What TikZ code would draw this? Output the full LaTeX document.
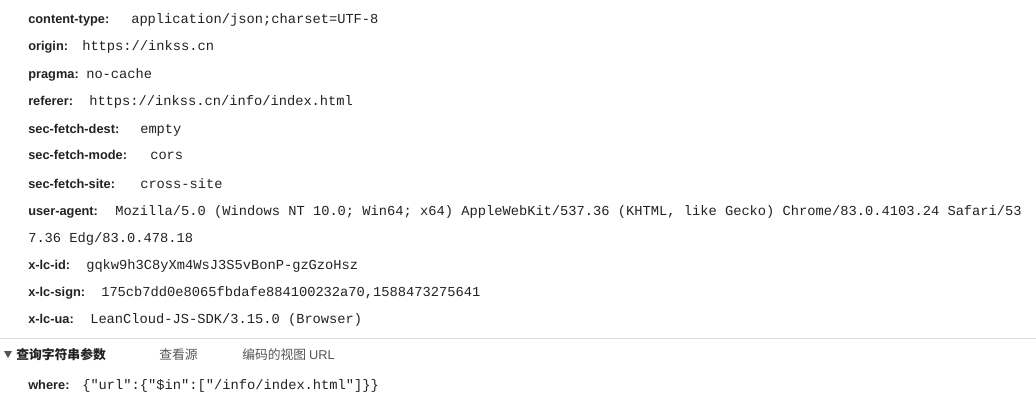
\documentclass[tikz,border=0pt]{standalone}
\usepackage{fontspec}
\setmainfont{Liberation Sans}
\setmonofont{Liberation Mono}
\newfontfamily\cjk{Noto Sans CJK SC}
\definecolor{txt}{HTML}{222222}
\definecolor{sep}{HTML}{DADCE0}
\definecolor{tab}{HTML}{555555}
\begin{document}
\begin{tikzpicture}[x=0.75pt,y=-0.75pt,
  key/.style={anchor=base west,inner sep=0pt,font=\fontsize{9.6}{11}\selectfont\bfseries,text=txt},
  val/.style={anchor=base west,inner sep=0pt,font=\fontsize{10.3}{12}\ttfamily,text=txt},
  ctab/.style={anchor=base west,inner sep=0pt,font=\fontsize{9.6}{11}\cjk,text=tab}]
\useasboundingbox (0,0) rectangle (1036,403);
\node[key] (k1) at (28,24) {content-type:}; \node[val] (v1) at (131,24) {application/json;charset=UTF-8};
\node[key] (k2) at (28,51) {origin:}; \node[val] (v2) at (82,51) {https://inkss.cn};
\node[key] (k3) at (28,79) {pragma:}; \node[val] (v3) at (86,79) {no-cache};
\node[key] (k4) at (28,106) {referer:}; \node[val] (v4) at (89,106) {https://inkss.cn/info/index.html};
\node[key] (k5) at (28,133) {sec-fetch-dest:}; \node[val] (v5) at (140,133) {empty};
\node[key] (k6) at (28,160) {sec-fetch-mode:}; \node[val] (v6) at (150,160) {cors};
\node[key] (k7) at (28,188) {sec-fetch-site:}; \node[val] (v7) at (140,188) {cross-site};
\node[key] (k8) at (28,215) {user-agent:}; \node[val] (v8) at (115,215) {Mozilla/5.0 (Windows NT 10.0; Win64; x64) AppleWebKit/537.36 (KHTML, like Gecko) Chrome/83.0.4103.24 Safari/53};
\node[val] (v8b) at (28,242) {7.36 Edg/83.0.478.18};
\node[key] (k9) at (28,269) {x-lc-id:}; \node[val] (v9) at (86,269) {gqkw9h3C8yXm4WsJ3S5vBonP-gzGzoHsz};
\node[key] (k10) at (28,296) {x-lc-sign:}; \node[val] (v10) at (101,296) {175cb7dd0e8065fbdafe884100232a70,1588473275641};
\node[key] (k11) at (28,323) {x-lc-ua:}; \node[val] (v11) at (90,323) {LeanCloud-JS-SDK/3.15.0 (Browser)};
\draw[sep,line width=0.75pt] (0,338.5) -- (1036,338.5);
\fill[tab] (4,351) -- (12,351) -- (8,358) -- cycle;
\node[ctab,text=txt,font=\fontsize{9.6}{11}\cjk\bfseries] (t1) at (16,359) {查询字符串参数};
\node[ctab] (t2) at (159,359) {查看源};
\node[ctab] (t3) at (242,359) {编码的视图 {\rmfamily URL}};
\node[key] (k12) at (28,389) {where:}; \node[val] (v12) at (82,389) {\{"url":\{"\$in":["/info/index.html"]\}\}};
\end{tikzpicture}
\end{document}
